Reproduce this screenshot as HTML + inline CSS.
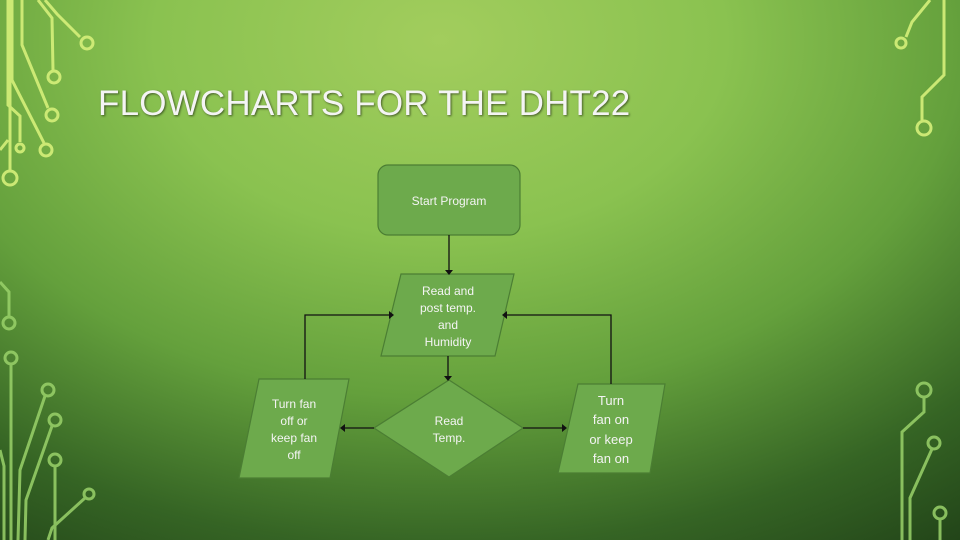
<!DOCTYPE html>
<html><head><style>
body{margin:0;width:960px;height:540px;overflow:hidden;}
.bg{position:absolute;inset:0;background:radial-gradient(ellipse 950px 650px at 440px 40px,#a2cd5d 0%,#8ac250 30%,#64a03c 55%,#356424 78%,#1c3a15 100%);}
.t{position:absolute;left:98px;top:84px;font:35px "Liberation Sans",sans-serif;color:#f4f4f4;text-shadow:1px 1px 2px rgba(0,0,0,.55);letter-spacing:0.2px}
</style></head><body>
<div class="bg"></div>
<svg width="960" height="540" style="position:absolute;left:0;top:0">
<g fill="none" stroke="#d6f07a" stroke-width="3" opacity=".9">
<path d="M45 0 L57 14 L80 37"/><circle cx="87" cy="43" r="6"/>
<path d="M38 0 L52 18 L53 70"/><circle cx="54" cy="77" r="6"/>
<path d="M22 0 L22 45 L48 108"/><circle cx="52" cy="115" r="6"/>
<path d="M12 0 L12 80 L44 143"/><circle cx="46" cy="150" r="6"/>
<path d="M8 0 L8 105 L20 116 L20 142"/><circle cx="20" cy="148" r="4"/>
<path d="M0 150 L8 140"/>
<path d="M10 0 L10 170"/><circle cx="10" cy="178" r="7"/>
<path d="M930 0 L912 22 L906 37"/><circle cx="901" cy="43" r="5"/>
<path d="M944 0 L944 75 L922 97 L922 120"/><circle cx="924" cy="128" r="7"/>
</g>
<g fill="none" stroke="#9ad26a" stroke-width="3" opacity=".85">
<path d="M0 282 L9 292 L9 316"/><circle cx="9" cy="323" r="6"/>
<circle cx="11" cy="358" r="6"/><path d="M11 364 L11 540"/>
<path d="M0 450 L4 466 L4 540"/>
<circle cx="48" cy="390" r="6"/><path d="M45 396 L20 470 L18 540"/>
<circle cx="55" cy="420" r="6"/><path d="M52 426 L26 500 L25 540"/>
<circle cx="55" cy="460" r="6"/><path d="M55 466 L55 540"/>
<circle cx="89" cy="494" r="5"/><path d="M85 498 L52 528 L48 540"/>
<circle cx="924" cy="390" r="7"/><path d="M924 397 L924 412 L902 432 L902 540"/>
<circle cx="934" cy="443" r="6"/><path d="M932 449 L910 498 L910 540"/>
<circle cx="940" cy="513" r="6"/><path d="M940 519 L940 540"/>
</g>
<g fill="#6daa4c" stroke="#4b7e33" stroke-width="1.2">
<rect x="378" y="165" width="142" height="70" rx="10"/>
<polygon points="401,274 514,274 495,356 381,356"/>
<polygon points="449,380 523,428 449,477 374,428"/>
<polygon points="259,379 349,379 330,478 239,478"/>
<polygon points="578,384 665,384 650,473 558,473"/>
</g>
<g stroke="#111" stroke-width="1.3" fill="none">
<path d="M449 235 V271"/><path d="M448 356 V377"/>
<path d="M305 379 V315 H390"/><path d="M611 384 V315 H505"/>
<path d="M374 428 H343"/><path d="M523 428 H563"/>
</g>
<g fill="#111">
<polygon points="445,270 453,270 449,275"/>
<polygon points="444,376 452,376 448,381"/>
<polygon points="389,311 389,319 394,315"/>
<polygon points="507,311 507,319 502,315"/>
<polygon points="345,424 345,432 340,428"/>
<polygon points="562,424 562,432 567,428"/>
</g>
<g font-family="Liberation Sans,sans-serif" fill="#f4f4f4" text-anchor="middle" font-size="12">
<text x="449" y="205">Start Program</text>
<text x="448" y="295">Read and</text><text x="448" y="312">post temp.</text><text x="448" y="329">and</text><text x="448" y="346">Humidity</text>
<text x="449" y="425">Read</text><text x="449" y="442">Temp.</text>
<text x="294" y="408">Turn fan</text><text x="294" y="425">off or</text><text x="294" y="442">keep fan</text><text x="294" y="459">off</text>
<g font-size="13"><text x="611" y="405">Turn</text><text x="611" y="424">fan on</text><text x="611" y="444">or keep</text><text x="611" y="463">fan on</text></g>
</g>
</svg>
<div class="t">FLOWCHARTS FOR THE DHT22</div>
</body></html>
